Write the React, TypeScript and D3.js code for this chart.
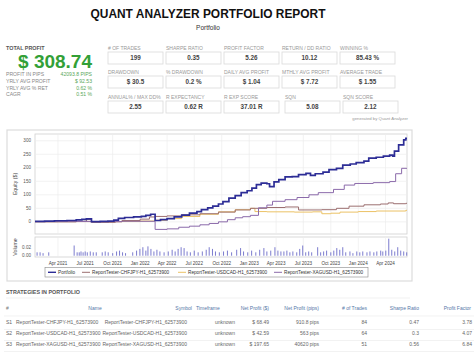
import * as d3 from "d3";

// ---- report figures ----
const summaryLabels = ["PROFIT IN PIPS", "YRLY AVG PROFIT", "YRLY AVG % RET", "CAGR"];
const summaryValues = ["42093.8 PIPS", "$ 92.53", "0.62 %", "0.51 %"];

const metricLabels = [
  ["# OF TRADES", "SHARPE RATIO", "PROFIT FACTOR", "RETURN / DD RATIO", "WINNING %"],
  ["DRAWDOWN", "% DRAWDOWN", "DAILY AVG PROFIT", "MTHLY AVG PROFIT", "AVERAGE TRADE"],
  ["ANNUAL% / MAX DD%", "R EXPECTANCY", "R EXP SCORE", "SQN", "SQN SCORE"],
];
const metricValues = [
  ["199", "0.35", "5.26", "10.12", "85.43 %"],
  ["$ 30.5", "0.2 %", "$ 1.04", "$ 7.72", "$ 1.55"],
  ["2.55", "0.62 R", "37.01 R", "5.08", "2.12"],
];

// ---- equity curves (date, $) ----
const portfolioEquity: [string, number][] = [
  ["2021-01-14", 2], ["2021-02-15", 3], ["2021-03-20", 4], ["2021-05-01", 5], ["2021-06-01", 7],
  ["2021-06-20", 9], ["2021-07-05", 11], ["2021-07-22", 1], ["2021-08-20", 2], ["2021-09-15", 3],
  ["2021-10-05", 6], ["2021-10-20", 13], ["2021-11-10", 16], ["2021-12-10", 18], ["2022-01-05", 20],
  ["2022-01-20", 24], ["2022-02-05", 28], ["2022-02-20", 5], ["2022-03-10", 8], ["2022-04-01", 12],
  ["2022-04-25", 18], ["2022-05-20", 25], ["2022-06-15", 32], ["2022-07-10", 38], ["2022-07-25", 45],
  ["2022-08-15", 52], ["2022-09-01", 58], ["2022-09-20", 66], ["2022-10-05", 75], ["2022-10-25", 88],
  ["2022-11-15", 97], ["2022-12-05", 108], ["2022-12-25", 115], ["2023-01-10", 125], ["2023-01-25", 138],
  ["2023-02-10", 143], ["2023-03-01", 141], ["2023-03-10", 130], ["2023-03-25", 148], ["2023-04-10", 156],
  ["2023-05-01", 166], ["2023-05-25", 167], ["2023-06-15", 175], ["2023-07-10", 179], ["2023-07-25", 172],
  ["2023-08-10", 178], ["2023-09-05", 184], ["2023-09-25", 193], ["2023-10-20", 198], ["2023-11-10", 210],
  ["2023-12-05", 214], ["2023-12-25", 219], ["2024-01-20", 225], ["2024-02-05", 236], ["2024-03-01", 239],
  ["2024-03-25", 243], ["2024-04-15", 247], ["2024-04-25", 243], ["2024-05-01", 262], ["2024-05-15", 285],
  ["2024-06-01", 303], ["2024-06-08", 309], ["2024-06-12", 309],
];
const chfjpyEquity: [string, number][] = [
  ["2021-01-14", 1], ["2021-04-01", 2], ["2021-07-05", 8], ["2021-07-22", -2], ["2021-10-10", 0],
  ["2021-11-01", 5], ["2022-01-01", 10], ["2022-02-01", 18], ["2022-02-20", 20], ["2022-04-01", 22],
  ["2022-05-20", 26], ["2022-07-20", 30], ["2022-09-20", 36], ["2022-11-15", 44], ["2023-01-05", 50],
  ["2023-03-01", 53], ["2023-05-01", 55], ["2023-06-15", 44], ["2023-09-01", 45], ["2023-10-20", 50],
  ["2023-12-01", 58], ["2024-01-20", 63], ["2024-03-15", 66], ["2024-04-10", 70], ["2024-04-28", 67],
  ["2024-06-08", 68.5], ["2024-06-12", 68.5],
];
const usdcadEquity: [string, number][] = [
  ["2021-01-14", 0], ["2021-06-01", 1], ["2021-10-01", 1], ["2022-01-01", 3], ["2022-02-20", 6],
  ["2022-04-01", 12], ["2022-05-20", 20], ["2022-07-20", 28], ["2022-09-20", 37], ["2022-11-15", 45],
  ["2023-01-05", 50], ["2023-01-20", 38], ["2023-03-01", 37], ["2023-06-01", 36], ["2023-08-01", 37],
  ["2023-09-01", 30], ["2023-10-01", 32], ["2023-11-01", 36], ["2024-01-01", 38], ["2024-03-01", 40],
  ["2024-06-08", 42.6], ["2024-06-12", 42.6],
];
const xagusdEquity: [string, number][] = [
  ["2021-01-14", 0], ["2021-06-01", 1], ["2021-11-01", 2], ["2022-02-18", 2], ["2022-02-20", -28],
  ["2022-04-01", -26], ["2022-05-10", -20], ["2022-06-15", -16], ["2022-07-20", -11], ["2022-08-20", -6],
  ["2022-09-20", 0], ["2022-10-20", 8], ["2022-11-15", 15], ["2022-12-10", 19], ["2023-01-05", 24],
  ["2023-02-01", 52], ["2023-03-01", 62], ["2023-03-20", 76], ["2023-05-01", 82], ["2023-06-10", 90],
  ["2023-07-20", 100], ["2023-08-20", 108], ["2023-10-10", 120], ["2023-11-15", 136], ["2023-12-20", 142],
  ["2024-02-20", 145], ["2024-04-15", 149], ["2024-05-05", 178], ["2024-05-25", 198], ["2024-06-12", 198],
];

// ---- volume (date, lots) ----
const volumeBars: [string, number][] = [
  ["2021-01-21", 0.008], ["2021-01-31", 0.008], ["2021-02-10", 0.006], ["2021-03-01", 0.008],
  ["2021-05-25", 0.024], ["2021-06-04", 0.008], ["2021-06-11", 0.008], ["2021-06-17", 0.01],
  ["2021-06-24", 0.008], ["2021-07-01", 0.01], ["2021-07-08", 0.008], ["2021-07-18", 0.01],
  ["2021-07-28", 0.008], ["2021-08-07", 0.008], ["2021-08-27", 0.008], ["2021-09-06", 0.01],
  ["2021-09-16", 0.008], ["2021-10-01", 0.006], ["2021-10-14", 0.01], ["2021-10-24", 0.012],
  ["2021-11-03", 0.008], ["2021-11-13", 0.006], ["2021-12-07", 0.008], ["2021-12-20", 0.012],
  ["2021-12-31", 0.016], ["2022-01-10", 0.02], ["2022-01-20", 0.012], ["2022-01-27", 0.022],
  ["2022-02-06", 0.016], ["2022-02-16", 0.01], ["2022-02-26", 0.014], ["2022-03-08", 0.01],
  ["2022-03-22", 0.008], ["2022-04-05", 0.01], ["2022-04-18", 0.014], ["2022-04-28", 0.01],
  ["2022-05-08", 0.016], ["2022-05-18", 0.02], ["2022-05-28", 0.018], ["2022-06-07", 0.01],
  ["2022-06-18", 0.008], ["2022-07-01", 0.012], ["2022-07-14", 0.008], ["2022-07-28", 0.01],
  ["2022-08-10", 0.014], ["2022-08-20", 0.02], ["2022-08-31", 0.016], ["2022-09-10", 0.01],
  ["2022-09-23", 0.008], ["2022-10-07", 0.01], ["2022-10-20", 0.012], ["2022-11-03", 0.008],
  ["2022-11-20", 0.014], ["2022-12-03", 0.018], ["2022-12-13", 0.01], ["2022-12-27", 0.008],
  ["2023-01-09", 0.012], ["2023-01-23", 0.008], ["2023-02-05", 0.014], ["2023-02-19", 0.018],
  ["2023-03-01", 0.01], ["2023-03-14", 0.012], ["2023-03-28", 0.02], ["2023-04-07", 0.012],
  ["2023-04-17", 0.01], ["2023-04-27", 0.01], ["2023-05-07", 0.012], ["2023-05-17", 0.008],
  ["2023-05-27", 0.01], ["2023-06-09", 0.008], ["2023-06-19", 0.016], ["2023-06-29", 0.024],
  ["2023-07-09", 0.008], ["2023-07-19", 0.01], ["2023-07-29", 0.008], ["2023-08-18", 0.02],
  ["2023-08-28", 0.008], ["2023-09-07", 0.01], ["2023-09-17", 0.012], ["2023-10-01", 0.008],
  ["2023-10-11", 0.012], ["2023-10-21", 0.018], ["2023-10-31", 0.014], ["2023-11-10", 0.02],
  ["2023-11-20", 0.008], ["2023-12-04", 0.01], ["2023-12-14", 0.006], ["2023-12-27", 0.01],
  ["2024-01-06", 0.008], ["2024-01-16", 0.01], ["2024-01-30", 0.008], ["2024-02-09", 0.01],
  ["2024-02-22", 0.008], ["2024-03-03", 0.01], ["2024-03-16", 0.012], ["2024-03-23", 0.01],
  ["2024-04-02", 0.012], ["2024-04-12", 0.04], ["2024-04-22", 0.014], ["2024-05-02", 0.01],
  ["2024-05-12", 0.02], ["2024-05-22", 0.012], ["2024-06-01", 0.01], ["2024-06-11", 0.008],
];

const seriesNames = ["Portfolio", "ReportTester-CHFJPY-H1_62573900", "ReportTester-USDCAD-H1_62573900", "ReportTester-XAGUSD-H1_62573900"];
const seriesColors = ["#2d2d96", "#9c6f70", "#ebc266", "#8b6aaa"];

const equityTicks = [0, 50, 100, 150, 200, 250, 300];
const volumeTicks = [0, 0.02];

// ---- strategies table ----
const tableHeaders = ["#", "Name", "Symbol", "Timeframe", "Net Profit ($)", "Net Profit (pips)", "# of Trades", "Sharpe Ratio", "Profit Factor"];
const strategyIds = ["S1", "S2", "S3"];
const strategyNames = ["ReportTester-CHFJPY-H1_62573900", "ReportTester-USDCAD-H1_62573900", "ReportTester-XAGUSD-H1_62573900"];
const strategyTimeframes = ["unknown", "unknown", "unknown"];
const strategyProfit = ["$ 68.49", "$ 42.59", "$ 197.65"];
const strategyPips = ["910.8 pips", "563 pips", "40620 pips"];
const strategyTrades = ["84", "64", "51"];
const strategySharpe = ["0.47", "0.3", "0.56"];
const strategyPF = ["3.78", "4.07", "6.84"];

const parse = d3.timeParse("%Y-%m-%d");
const font = "Arial, 'Liberation Sans', sans-serif";

export default function App() {
  const plot = { left: 35, right: 407, top: 134, bottom: 234 };
  const vol = { top: 237, bottom: 257 };

  const x = d3.scaleTime()
    .domain([parse("2021-01-14")!, parse("2024-06-12")!])
    .range([plot.left, plot.right]);
  const y = d3.scaleLinear().domain([-45, 325]).range([plot.bottom, plot.top]);
  const yv = d3.scaleLinear().domain([-0.003, 0.044]).range([vol.bottom, vol.top]);

  const quarterTicks = x.ticks(d3.timeMonth.every(3)!);
  const fmtTick = d3.timeFormat("%b %Y");

  const line = d3.line<[string, number]>()
    .x((d) => x(parse(d[0])!))
    .y((d) => y(d[1]))
    .curve(d3.curveStepAfter);

  const curves = [portfolioEquity, chfjpyEquity, usdcadEquity, xagusdEquity];
  // strategies first, portfolio on top
  const drawOrder = [2, 1, 3, 0];

  const metricCols = [
    [108, 166, 224, 282, 340],
    [108, 166, 224, 282, 340],
    [108, 166, 224, 285, 343],
  ];
  const metricRowY = [52, 76, 101];

  const legendX = [48, 82, 178, 274];

  const colAnchor = [6, 95, 192, 196, 269, 319, 367, 419, 471];
  const colAlign: ("start" | "middle" | "end")[] = ["start", "middle", "end", "start", "end", "end", "end", "end", "end"];
  const rowY = [324, 335, 346];

  return (
    <svg width={474} height={354} style={{ position: "fixed", left: 0, top: 0, background: "#fff" }} fontFamily={font}>
      <rect width={474} height={354} fill="#fff" />

      {/* title */}
      <text x={208} y={18} textAnchor="middle" fontSize={12.5} fontWeight="bold" fill="#111" textLength={235} lengthAdjust="spacingAndGlyphs">
        QUANT ANALYZER PORTFOLIO REPORT
      </text>
      <text x={208} y={30} textAnchor="middle" fontSize={6.5} fill="#333">Portfolio</text>

      {/* total profit block */}
      <text x={6} y={50} fontSize={5.4} fontWeight="bold" fill="#555">TOTAL PROFIT</text>
      <text x={92} y={67.5} textAnchor="end" fontSize={19} fontWeight="bold" fill="#33a037">$ 308.74</text>
      {summaryLabels.map((l, i) => (
        <g key={l}>
          <text x={6} y={76 + i * 6.8} fontSize={5.1} fill="#888">{l}</text>
          <text x={92} y={76 + i * 6.8} textAnchor="end" fontSize={5.1} fill="#5aa85a">{summaryValues[i]}</text>
        </g>
      ))}

      {/* metric boxes */}
      {metricLabels.map((row, r) =>
        row.map((label, c) => {
          const bx = metricCols[r][c];
          const by = metricRowY[r];
          return (
            <g key={label}>
              <text x={bx} y={by - 2.5} fontSize={5} fill="#999">{label}</text>
              <rect x={bx} y={by} width={55} height={12} fill="#fff" stroke="#d9d9d9" strokeWidth={0.8} />
              <text x={bx + 27.5} y={by + 8.3} textAnchor="middle" fontSize={6.3} fontWeight="bold" fill="#444">
                {metricValues[r][c]}
              </text>
            </g>
          );
        })
      )}
      <text x={408} y={120} textAnchor="end" fontSize={4.3} fill="#999">generated by Quant Analyzer</text>

      {/* chart panel */}
      <rect x={7} y={130} width={405} height={151} fill="#fff" stroke="#dcdcdc" strokeWidth={1.2} />

      {/* equity plot area */}
      <rect x={plot.left} y={plot.top} width={plot.right - plot.left} height={plot.bottom - plot.top} fill="#fff" stroke="#d0d0d0" strokeWidth={0.8} />
      {quarterTicks.map((t) => (
        <line key={"vg" + t.getTime()} x1={x(t)} x2={x(t)} y1={plot.top} y2={plot.bottom} stroke="#ececec" strokeWidth={0.7} />
      ))}
      {equityTicks.map((v) => (
        <g key={"eq" + v}>
          <line x1={plot.left} x2={plot.right} y1={y(v)} y2={y(v)} stroke="#ececec" strokeWidth={0.7} />
          <text x={31} y={y(v) + 1.6} textAnchor="end" fontSize={4.6} fill="#555">{v}</text>
        </g>
      ))}
      <text transform={`translate(17,${(plot.top + plot.bottom) / 2}) rotate(-90)`} textAnchor="middle" fontSize={5.2} fill="#444">
        Equity ($)
      </text>

      <defs>
        <clipPath id="plotClip">
          <rect x={plot.left} y={plot.top} width={plot.right - plot.left} height={plot.bottom - plot.top} />
        </clipPath>
      </defs>
      <g clipPath="url(#plotClip)">
        {drawOrder.map((i) => (
          <path key={seriesNames[i]} d={line(curves[i]) || ""} fill="none" stroke={seriesColors[i]} strokeWidth={i === 0 ? 1.7 : 1} />
        ))}
      </g>

      {/* volume area */}
      <rect x={plot.left} y={vol.top} width={plot.right - plot.left} height={vol.bottom - vol.top} fill="#fff" stroke="#d0d0d0" strokeWidth={0.8} />
      {quarterTicks.map((t) => (
        <line key={"vv" + t.getTime()} x1={x(t)} x2={x(t)} y1={vol.top} y2={vol.bottom} stroke="#ececec" strokeWidth={0.7} />
      ))}
      {volumeTicks.map((v) => (
        <text key={"vt" + v} x={31} y={yv(v) + 1.6} textAnchor="end" fontSize={4.6} fill="#555">{d3.format(".2f")(v)}</text>
      ))}
      <text transform={`translate(17,${(vol.top + vol.bottom) / 2}) rotate(-90)`} textAnchor="middle" fontSize={5.2} fill="#444">
        Volume
      </text>
      {volumeBars.map(([d, v]) => (
        <line key={"vb" + d} x1={x(parse(d)!)} x2={x(parse(d)!)} y1={yv(0)} y2={yv(v)} stroke="#6d6dc8" strokeWidth={0.9} />
      ))}

      {/* x axis labels */}
      {quarterTicks.map((t) => (
        <text key={"xl" + t.getTime()} x={x(t)} y={264.5} textAnchor="middle" fontSize={4.6} fill="#444">{fmtTick(t)}</text>
      ))}

      {/* legend */}
      <rect x={45} y={267.5} width={323} height={9.5} fill="#fff" stroke="#888" strokeWidth={0.6} />
      {seriesNames.map((name, i) => (
        <g key={"lg" + name}>
          <line x1={legendX[i]} x2={legendX[i] + 8} y1={272.3} y2={272.3} stroke={seriesColors[i]} strokeWidth={i === 0 ? 1.4 : 1} />
          <text x={legendX[i] + 10} y={274} fontSize={4.7} fill="#333">{name}</text>
        </g>
      ))}

      {/* strategies table */}
      <text x={6} y={294} fontSize={5.4} fontWeight="bold" fill="#555">STRATEGIES IN PORTFOLIO</text>
      <line x1={6} x2={410} y1={298} y2={298} stroke="#eeeeee" strokeWidth={0.8} />
      {tableHeaders.map((h, i) => (
        <text key={"th" + h} x={colAnchor[i]} y={310} textAnchor={colAlign[i]} fontSize={5} fill={i === 0 ? "#777" : "#5578a8"}>{h}</text>
      ))}
      {[316, 329.5, 340.5, 351.5].map((ly) => (
        <line key={"sep" + ly} x1={4} x2={474} y1={ly} y2={ly} stroke="#ececec" strokeWidth={0.7} />
      ))}
      {strategyIds.map((id, r) => {
        const cells = [id, strategyNames[r], strategyNames[r], strategyTimeframes[r], strategyProfit[r], strategyPips[r], strategyTrades[r], strategySharpe[r], strategyPF[r]];
        const anchors = [6, 16, 187, 235, 269, 319, 367, 419, 472];
        const aligns: ("start" | "end")[] = ["start", "start", "end", "end", "end", "end", "end", "end", "end"];
        return (
          <g key={id}>
            {cells.map((c, i) => (
              <text key={i} x={anchors[i]} y={rowY[r]} textAnchor={aligns[i]} fontSize={5} fill="#666">{c}</text>
            ))}
          </g>
        );
      })}
    </svg>
  );
}
